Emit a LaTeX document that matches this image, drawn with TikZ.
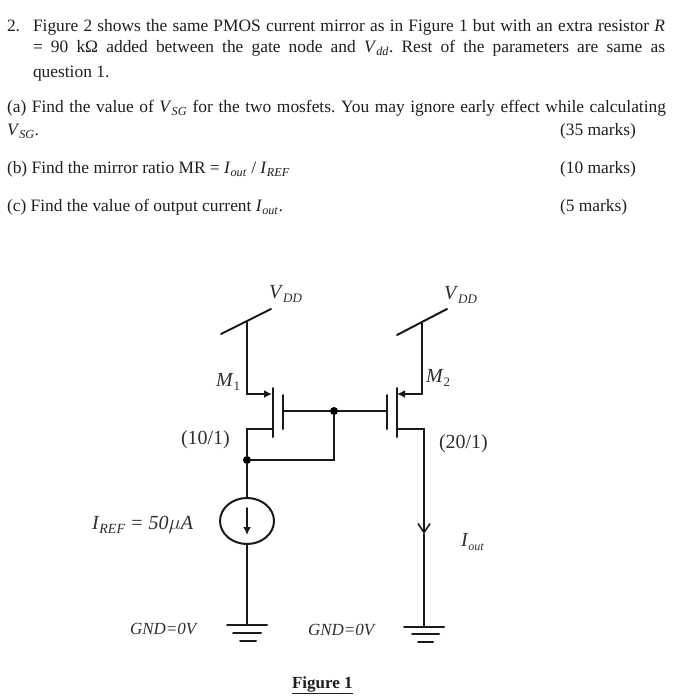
\documentclass[tikz,border=0pt]{standalone}
\usepackage{fontspec}
\setmainfont{Liberation Serif}
\usetikzlibrary{arrows.meta,shapes.geometric}
\newcommand{\ssub}[1]{\textsubscript{\textit{#1}}}
\frenchspacing
\tikzset{
  wire/.style={line width=2pt,black!90,line cap=round,line join=miter},
  txt/.style={anchor=base west,inner sep=0pt,outer sep=0pt,font=\fontsize{17.4pt}{20pt}\selectfont,text=black!88},
  lab/.style={anchor=base west,inner sep=0pt,outer sep=0pt,font=\fontsize{20pt}{24pt}\selectfont,text=black!82},
  gndlab/.style={anchor=base west,inner sep=0pt,outer sep=0pt,font=\fontsize{17pt}{22pt}\selectfont,text=black!82},
  dotnode/.style={circle,fill=black,inner sep=0pt,minimum size=8pt},
  srcnode/.style={ellipse,draw=black!90,line width=2pt,minimum width=54pt,minimum height=46pt,inner sep=0pt},
  filltip/.style={-{Latex[length=8pt,width=8pt]}},
  opentip/.style={-{Straight Barb[length=9pt,width=12pt,line width=1.6pt]}}
}
\begin{document}
\begin{tikzpicture}[x=1pt,y=-1pt]
\useasboundingbox (0,0) rectangle (683,700);
\fill[white] (0,0) rectangle (683,700);
% question text
\node[txt] (n) at (7,31.5) {2.};
\node[txt] (l1) at (33,31.5) {\makebox[632pt][s]{Figure 2 shows the same PMOS current mirror as in Figure 1 but with an extra resistor \textit{R}}};
\node[txt] (l2) at (33,53) {\makebox[632pt][s]{= 90 kΩ added between the gate node and \textit{V}\ssub{dd}. Rest of the parameters are same as}};
\node[txt] (l3) at (33,78) {question 1.};
\node[txt] (a1) at (7,113) {\makebox[659pt][s]{(a) Find the value of \textit{V}\ssub{SG} for the two mosfets. You may ignore early effect while calculating}};
\node[txt] (a2) at (7,136) {\textit{V}\ssub{SG}.};
\node[txt] (am) at (560,136) {(35 marks)};
\node[txt] (b1) at (7,174) {(b) Find the mirror ratio MR = \textit{I}\ssub{out} / \textit{I}\ssub{REF}};
\node[txt] (bm) at (560,174) {(10 marks)};
\node[txt] (c1) at (7,212) {(c) Find the value of output current \textit{I}\ssub{out}.};
\node[txt] (cm) at (560,212) {(5 marks)};
% named points
\coordinate (b1a) at (221,334); \coordinate (b1b) at (271,309);
\coordinate (b2a) at (397,335); \coordinate (b2b) at (447,309);
\coordinate (t1) at (247,322); \coordinate (t2) at (422,322);
\coordinate (s1) at (247,394); \coordinate (s1e) at (272,394);
\coordinate (s2) at (422,394); \coordinate (s2e) at (397,394);
\coordinate (ch1t) at (272.5,388); \coordinate (ch1b) at (272.5,437);
\coordinate (ch2t) at (397,388); \coordinate (ch2b) at (397,437);
\coordinate (g1t) at (283,395); \coordinate (g1b) at (283,429); \coordinate (g1) at (283,411);
\coordinate (g2t) at (387,395); \coordinate (g2b) at (387,429); \coordinate (g2) at (387,411);
\coordinate (d1e) at (272.5,429); \coordinate (d1) at (247,429);
\coordinate (d2e) at (397,429); \coordinate (d2) at (424,429);
\coordinate (c334) at (334,460);
\node[dotnode] (gn) at (334,411) {};
\node[dotnode] (dn) at (247,460) {};
\node[srcnode] (src) at (247,521) {};
\coordinate (ar1a) at (247,508); \coordinate (ar1b) at (247,535);
\coordinate (gnd1) at (247,625); \coordinate (gnd2) at (424,627);
\coordinate (iout) at (424,534);
% wires
\draw[wire] (b1a) -- (b1b);
\draw[wire] (b2a) -- (b2b);
\draw[wire] (t1) -- (s1);
\draw[wire] (t2) -- (s2);
\draw[wire,filltip] (s1) -- (s1e);
\draw[wire,filltip] (s2) -- (s2e);
\draw[wire] (ch1t) -- (ch1b);
\draw[wire] (ch2t) -- (ch2b);
\draw[wire] (g1t) -- (g1b);
\draw[wire] (g2t) -- (g2b);
\draw[wire] (g1) -- (gn);
\draw[wire] (gn) -- (g2);
\draw[wire] (d1e) -- (d1) -- (dn);
\draw[wire] (dn) -- (c334) -- (gn);
\draw[wire] (dn) -- (src);
\draw[wire] (src) -- (gnd1);
\draw[wire] (d2e) -- (d2);
\draw[wire,opentip] (d2) -- (iout);
\draw[wire] (iout) -- (gnd2);
\draw[wire,filltip] (ar1a) -- (ar1b);
% grounds
\draw[wire] (227,625) -- (267,625) (233,633) -- (261,633) (240,641) -- (256,641);
\draw[wire] (404,627) -- (444,627) (412,634) -- (439,634) (418,642) -- (433,642);
% labels
\node[lab] (vdd1) at (269,298) {\textit{V}\raisebox{-4pt}{\fontsize{13pt}{13pt}\selectfont\textit{DD}}};
\node[lab] (vdd2) at (444,299) {\textit{V}\raisebox{-4pt}{\fontsize{13pt}{13pt}\selectfont\textit{DD}}};
\node[lab] (m1) at (216,386) {\textit{M}\raisebox{-4pt}{\fontsize{13pt}{13pt}\selectfont 1}};
\node[lab] (m2) at (426,382) {\textit{M}\raisebox{-4pt}{\fontsize{13pt}{13pt}\selectfont 2}};
\node[lab] (w1) at (181,444) {(10/1)};
\node[lab] (w2) at (439,448) {(20/1)};
\node[lab] (iref) at (92,529) {\textit{I}\raisebox{-4pt}{\fontsize{14pt}{14pt}\selectfont\textit{REF}} \textit{= 50$\mu$A}};
\node[lab] (io) at (461,546) {\textit{I}\raisebox{-4pt}{\fontsize{12pt}{12pt}\selectfont\textit{out}}};
\node[gndlab] (g1l) at (130,634) {\textit{GND=0V}};
\node[gndlab] (g2l) at (308,635) {\textit{GND=0V}};
\node[txt,font=\fontsize{17pt}{20pt}\selectfont\bfseries] (fig) at (292,688) {\underline{Figure 1}};
\end{tikzpicture}
\end{document}
